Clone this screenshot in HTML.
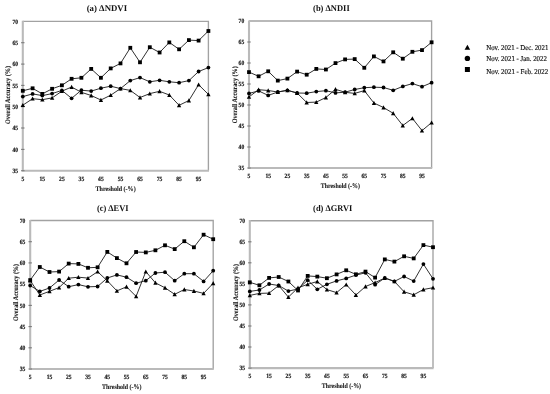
<!DOCTYPE html>
<html><head><meta charset="utf-8"><title>Overall accuracy vs threshold</title>
<style>
html,body{margin:0;padding:0;background:#fff;}
body{width:550px;height:394px;overflow:hidden;}
svg{display:block;}
text{font-family:"Liberation Serif","DejaVu Serif",serif;fill:#111;text-rendering:geometricPrecision;}
.tl{font-size:6.5px;font-weight:bold;fill:#1a1a1a;stroke:#1a1a1a;stroke-width:0.2px;}
.at{font-size:7.0px;font-weight:bold;fill:#222;stroke:#222;stroke-width:0.12px;}
.ti{font-size:8.8px;font-weight:bold;fill:#111;}
.lg{font-size:7.5px;fill:#111;stroke:#111;stroke-width:0.18px;}
</style></head><body>
<svg width="550" height="394" viewBox="0 0 550 394">
<path d="M22.8 21.4H208.4V170.7" fill="none" stroke="#a2a2a2" stroke-width="1.35"/>
<path d="M22.8 20.8V170.7H209" fill="none" stroke="#bababa" stroke-width="2.1"/>
<line x1="21.1" y1="42.7" x2="24.5" y2="42.7" stroke="#7a7a7a" stroke-width="1.1"/>
<line x1="21.1" y1="64.1" x2="24.5" y2="64.1" stroke="#7a7a7a" stroke-width="1.1"/>
<line x1="21.1" y1="85.4" x2="24.5" y2="85.4" stroke="#7a7a7a" stroke-width="1.1"/>
<line x1="21.1" y1="106.7" x2="24.5" y2="106.7" stroke="#7a7a7a" stroke-width="1.1"/>
<line x1="21.1" y1="128" x2="24.5" y2="128" stroke="#7a7a7a" stroke-width="1.1"/>
<line x1="21.1" y1="149.4" x2="24.5" y2="149.4" stroke="#7a7a7a" stroke-width="1.1"/>
<line x1="21.1" y1="170.7" x2="24.5" y2="170.7" stroke="#7a7a7a" stroke-width="1.1"/>
<text x="18" y="23.6" class="tl" text-anchor="end" textLength="5.6" lengthAdjust="spacingAndGlyphs">70</text>
<text x="18" y="44.9" class="tl" text-anchor="end" textLength="5.6" lengthAdjust="spacingAndGlyphs">65</text>
<text x="18" y="66.3" class="tl" text-anchor="end" textLength="5.6" lengthAdjust="spacingAndGlyphs">60</text>
<text x="18" y="87.6" class="tl" text-anchor="end" textLength="5.6" lengthAdjust="spacingAndGlyphs">55</text>
<text x="18" y="108.9" class="tl" text-anchor="end" textLength="5.6" lengthAdjust="spacingAndGlyphs">50</text>
<text x="18" y="130.2" class="tl" text-anchor="end" textLength="5.6" lengthAdjust="spacingAndGlyphs">45</text>
<text x="18" y="151.6" class="tl" text-anchor="end" textLength="5.6" lengthAdjust="spacingAndGlyphs">40</text>
<text x="18" y="172.9" class="tl" text-anchor="end" textLength="5.6" lengthAdjust="spacingAndGlyphs">35</text>
<text x="22.8" y="180.9" class="tl" text-anchor="middle" textLength="2.8" lengthAdjust="spacingAndGlyphs">5</text>
<text x="42.3" y="180.9" class="tl" text-anchor="middle" textLength="5.6" lengthAdjust="spacingAndGlyphs">15</text>
<text x="61.9" y="180.9" class="tl" text-anchor="middle" textLength="5.6" lengthAdjust="spacingAndGlyphs">25</text>
<text x="81.4" y="180.9" class="tl" text-anchor="middle" textLength="5.6" lengthAdjust="spacingAndGlyphs">35</text>
<text x="100.9" y="180.9" class="tl" text-anchor="middle" textLength="5.6" lengthAdjust="spacingAndGlyphs">45</text>
<text x="120.5" y="180.9" class="tl" text-anchor="middle" textLength="5.6" lengthAdjust="spacingAndGlyphs">55</text>
<text x="140" y="180.9" class="tl" text-anchor="middle" textLength="5.6" lengthAdjust="spacingAndGlyphs">65</text>
<text x="159.6" y="180.9" class="tl" text-anchor="middle" textLength="5.6" lengthAdjust="spacingAndGlyphs">75</text>
<text x="179.1" y="180.9" class="tl" text-anchor="middle" textLength="5.6" lengthAdjust="spacingAndGlyphs">85</text>
<text x="198.6" y="180.9" class="tl" text-anchor="middle" textLength="5.6" lengthAdjust="spacingAndGlyphs">95</text>
<text x="115.6" y="191" class="at" text-anchor="middle" textLength="40.2" lengthAdjust="spacingAndGlyphs">Threshold (-%)</text>
<text transform="translate(9.9 95) rotate(-90)" class="at" text-anchor="middle" textLength="58" lengthAdjust="spacingAndGlyphs">Overall Accuracy (%)</text>
<text x="86.7" y="10.9" class="ti" textLength="40.4" lengthAdjust="spacingAndGlyphs">(a) ΔNDVI</text>
<polyline points="22.8,105.2 32.6,98.7 42.3,99.7 52.1,97.9 61.9,91.2 71.6,87 81.4,92.3 91.2,95.5 100.9,100 110.7,95.2 120.5,88.6 130.3,90.4 140,97.5 149.8,93.6 159.6,91.3 169.3,95 179.1,105.3 188.9,100.5 198.6,84.7 208.4,94.4" fill="none" stroke="#1a1a1a" stroke-width="0.9"/>
<polyline points="22.8,96.6 32.6,93.9 42.3,95.6 52.1,93.6 61.9,90.4 71.6,98.3 81.4,90.2 91.2,91.1 100.9,88.2 110.7,86.2 120.5,88.6 130.3,80.6 140,77.6 149.8,81.8 159.6,80.3 169.3,81.8 179.1,82.7 188.9,80.6 198.6,71.5 208.4,67.6" fill="none" stroke="#1a1a1a" stroke-width="0.9"/>
<polyline points="22.8,90.8 32.6,88.3 42.3,93.9 52.1,88.8 61.9,85.3 71.6,78.8 81.4,77.8 91.2,68.9 100.9,77.8 110.7,68.4 120.5,63.4 130.3,47.8 140,62.3 149.8,47.2 159.6,52.5 169.3,42.4 179.1,49.3 188.9,40.1 198.6,40.6 208.4,31" fill="none" stroke="#1a1a1a" stroke-width="0.9"/>
<g fill="#000"><path d="M22.8 103L25 107.1L20.6 107.1Z"/><path d="M32.6 96.5L34.7 100.6L30.4 100.6Z"/><path d="M42.3 97.5L44.5 101.6L40.2 101.6Z"/><path d="M52.1 95.7L54.3 99.8L50 99.8Z"/><path d="M61.9 89L64 93.1L59.7 93.1Z"/><path d="M71.6 84.8L73.8 88.9L69.5 88.9Z"/><path d="M81.4 90.1L83.6 94.2L79.3 94.2Z"/><path d="M91.2 93.3L93.3 97.4L89 97.4Z"/><path d="M100.9 97.8L103.1 101.9L98.8 101.9Z"/><path d="M110.7 93L112.9 97.1L108.6 97.1Z"/><path d="M120.5 86.4L122.6 90.5L118.3 90.5Z"/><path d="M130.3 88.2L132.4 92.3L128.1 92.3Z"/><path d="M140 95.3L142.2 99.4L137.9 99.4Z"/><path d="M149.8 91.4L151.9 95.5L147.6 95.5Z"/><path d="M159.6 89.1L161.7 93.2L157.4 93.2Z"/><path d="M169.3 92.8L171.5 96.9L167.2 96.9Z"/><path d="M179.1 103.1L181.2 107.2L176.9 107.2Z"/><path d="M188.9 98.3L191 102.4L186.7 102.4Z"/><path d="M198.6 82.5L200.8 86.6L196.5 86.6Z"/><path d="M208.4 92.2L210.6 96.3L206.2 96.3Z"/></g>
<g fill="#000"><circle cx="22.8" cy="96.6" r="1.9"/><circle cx="32.6" cy="93.9" r="1.9"/><circle cx="42.3" cy="95.6" r="1.9"/><circle cx="52.1" cy="93.6" r="1.9"/><circle cx="61.9" cy="90.4" r="1.9"/><circle cx="71.6" cy="98.3" r="1.9"/><circle cx="81.4" cy="90.2" r="1.9"/><circle cx="91.2" cy="91.1" r="1.9"/><circle cx="100.9" cy="88.2" r="1.9"/><circle cx="110.7" cy="86.2" r="1.9"/><circle cx="120.5" cy="88.6" r="1.9"/><circle cx="130.3" cy="80.6" r="1.9"/><circle cx="140" cy="77.6" r="1.9"/><circle cx="149.8" cy="81.8" r="1.9"/><circle cx="159.6" cy="80.3" r="1.9"/><circle cx="169.3" cy="81.8" r="1.9"/><circle cx="179.1" cy="82.7" r="1.9"/><circle cx="188.9" cy="80.6" r="1.9"/><circle cx="198.6" cy="71.5" r="1.9"/><circle cx="208.4" cy="67.6" r="1.9"/></g>
<g fill="#000"><rect x="20.9" y="88.9" width="3.8" height="3.8"/><rect x="30.7" y="86.4" width="3.8" height="3.8"/><rect x="40.4" y="92" width="3.8" height="3.8"/><rect x="50.2" y="86.9" width="3.8" height="3.8"/><rect x="60" y="83.4" width="3.8" height="3.8"/><rect x="69.7" y="76.9" width="3.8" height="3.8"/><rect x="79.5" y="75.9" width="3.8" height="3.8"/><rect x="89.3" y="67" width="3.8" height="3.8"/><rect x="99" y="75.9" width="3.8" height="3.8"/><rect x="108.8" y="66.5" width="3.8" height="3.8"/><rect x="118.6" y="61.5" width="3.8" height="3.8"/><rect x="128.4" y="45.9" width="3.8" height="3.8"/><rect x="138.1" y="60.4" width="3.8" height="3.8"/><rect x="147.9" y="45.3" width="3.8" height="3.8"/><rect x="157.7" y="50.6" width="3.8" height="3.8"/><rect x="167.4" y="40.5" width="3.8" height="3.8"/><rect x="177.2" y="47.4" width="3.8" height="3.8"/><rect x="187" y="38.2" width="3.8" height="3.8"/><rect x="196.7" y="38.7" width="3.8" height="3.8"/><rect x="206.5" y="29.1" width="3.8" height="3.8"/></g>
<path d="M249 21H431.6V168" fill="none" stroke="#a2a2a2" stroke-width="1.35"/>
<path d="M249 20.4V168H432.2" fill="none" stroke="#bababa" stroke-width="2.1"/>
<line x1="247.3" y1="42" x2="250.7" y2="42" stroke="#7a7a7a" stroke-width="1.1"/>
<line x1="247.3" y1="63" x2="250.7" y2="63" stroke="#7a7a7a" stroke-width="1.1"/>
<line x1="247.3" y1="84" x2="250.7" y2="84" stroke="#7a7a7a" stroke-width="1.1"/>
<line x1="247.3" y1="105" x2="250.7" y2="105" stroke="#7a7a7a" stroke-width="1.1"/>
<line x1="247.3" y1="126" x2="250.7" y2="126" stroke="#7a7a7a" stroke-width="1.1"/>
<line x1="247.3" y1="147" x2="250.7" y2="147" stroke="#7a7a7a" stroke-width="1.1"/>
<line x1="247.3" y1="168" x2="250.7" y2="168" stroke="#7a7a7a" stroke-width="1.1"/>
<text x="244.2" y="23.2" class="tl" text-anchor="end" textLength="5.6" lengthAdjust="spacingAndGlyphs">70</text>
<text x="244.2" y="44.2" class="tl" text-anchor="end" textLength="5.6" lengthAdjust="spacingAndGlyphs">65</text>
<text x="244.2" y="65.2" class="tl" text-anchor="end" textLength="5.6" lengthAdjust="spacingAndGlyphs">60</text>
<text x="244.2" y="86.2" class="tl" text-anchor="end" textLength="5.6" lengthAdjust="spacingAndGlyphs">55</text>
<text x="244.2" y="107.2" class="tl" text-anchor="end" textLength="5.6" lengthAdjust="spacingAndGlyphs">50</text>
<text x="244.2" y="128.2" class="tl" text-anchor="end" textLength="5.6" lengthAdjust="spacingAndGlyphs">45</text>
<text x="244.2" y="149.2" class="tl" text-anchor="end" textLength="5.6" lengthAdjust="spacingAndGlyphs">40</text>
<text x="244.2" y="170.2" class="tl" text-anchor="end" textLength="5.6" lengthAdjust="spacingAndGlyphs">35</text>
<text x="249" y="178.2" class="tl" text-anchor="middle" textLength="2.8" lengthAdjust="spacingAndGlyphs">5</text>
<text x="268.2" y="178.2" class="tl" text-anchor="middle" textLength="5.6" lengthAdjust="spacingAndGlyphs">15</text>
<text x="287.4" y="178.2" class="tl" text-anchor="middle" textLength="5.6" lengthAdjust="spacingAndGlyphs">25</text>
<text x="306.7" y="178.2" class="tl" text-anchor="middle" textLength="5.6" lengthAdjust="spacingAndGlyphs">35</text>
<text x="325.9" y="178.2" class="tl" text-anchor="middle" textLength="5.6" lengthAdjust="spacingAndGlyphs">45</text>
<text x="345.1" y="178.2" class="tl" text-anchor="middle" textLength="5.6" lengthAdjust="spacingAndGlyphs">55</text>
<text x="364.3" y="178.2" class="tl" text-anchor="middle" textLength="5.6" lengthAdjust="spacingAndGlyphs">65</text>
<text x="383.5" y="178.2" class="tl" text-anchor="middle" textLength="5.6" lengthAdjust="spacingAndGlyphs">75</text>
<text x="402.8" y="178.2" class="tl" text-anchor="middle" textLength="5.6" lengthAdjust="spacingAndGlyphs">85</text>
<text x="422" y="178.2" class="tl" text-anchor="middle" textLength="5.6" lengthAdjust="spacingAndGlyphs">95</text>
<text x="340.3" y="187.8" class="at" text-anchor="middle" textLength="39.2" lengthAdjust="spacingAndGlyphs">Threshold (-%)</text>
<text transform="translate(236.7 94.8) rotate(-90)" class="at" text-anchor="middle" textLength="57" lengthAdjust="spacingAndGlyphs">Overall Accuracy (%)</text>
<text x="313.1" y="10.8" class="ti" textLength="36.6" lengthAdjust="spacingAndGlyphs">(b) ΔNDII</text>
<polyline points="249,96.9 258.6,89.7 268.2,90.5 277.8,92 287.4,90.3 297.1,93 306.7,102.5 316.3,102.1 325.9,97.5 335.5,89.3 345.1,92.3 354.7,93.4 364.3,90.6 373.9,103 383.5,107.5 393.2,113.3 402.8,125.5 412.4,118.4 422,130.6 431.6,122.6" fill="none" stroke="#1a1a1a" stroke-width="0.9"/>
<polyline points="249,93.4 258.6,90.9 268.2,95.4 277.8,92 287.4,90.3 297.1,93 306.7,93.2 316.3,91.6 325.9,90.7 335.5,92.9 345.1,92.2 354.7,89.5 364.3,87.7 373.9,87.2 383.5,87.5 393.2,90.3 402.8,86.4 412.4,83.6 422,86.7 431.6,82.7" fill="none" stroke="#1a1a1a" stroke-width="0.9"/>
<polyline points="249,72.1 258.6,76.3 268.2,71.3 277.8,80.6 287.4,78.6 297.1,71.6 306.7,74.7 316.3,68.9 325.9,69.5 335.5,63.1 345.1,59.4 354.7,59.1 364.3,67.8 373.9,56.4 383.5,61.4 393.2,52.3 402.8,58.7 412.4,51.8 422,50.1 431.6,42.3" fill="none" stroke="#1a1a1a" stroke-width="0.9"/>
<g fill="#000"><path d="M249 94.7L251.2 98.8L246.8 98.8Z"/><path d="M258.6 87.5L260.8 91.6L256.5 91.6Z"/><path d="M268.2 88.3L270.4 92.4L266.1 92.4Z"/><path d="M277.8 89.8L280 93.9L275.7 93.9Z"/><path d="M287.4 88.1L289.6 92.2L285.3 92.2Z"/><path d="M297.1 90.8L299.2 94.9L294.9 94.9Z"/><path d="M306.7 100.3L308.8 104.4L304.5 104.4Z"/><path d="M316.3 99.9L318.4 104L314.1 104Z"/><path d="M325.9 95.3L328 99.4L323.7 99.4Z"/><path d="M335.5 87.1L337.6 91.2L333.3 91.2Z"/><path d="M345.1 90.1L347.3 94.2L343 94.2Z"/><path d="M354.7 91.2L356.9 95.3L352.6 95.3Z"/><path d="M364.3 88.4L366.5 92.5L362.2 92.5Z"/><path d="M373.9 100.8L376.1 104.9L371.8 104.9Z"/><path d="M383.5 105.3L385.7 109.4L381.4 109.4Z"/><path d="M393.2 111.1L395.3 115.2L391 115.2Z"/><path d="M402.8 123.3L404.9 127.4L400.6 127.4Z"/><path d="M412.4 116.2L414.5 120.3L410.2 120.3Z"/><path d="M422 128.4L424.1 132.5L419.8 132.5Z"/><path d="M431.6 120.4L433.8 124.5L429.4 124.5Z"/></g>
<g fill="#000"><circle cx="249" cy="93.4" r="1.9"/><circle cx="258.6" cy="90.9" r="1.9"/><circle cx="268.2" cy="95.4" r="1.9"/><circle cx="277.8" cy="92" r="1.9"/><circle cx="287.4" cy="90.3" r="1.9"/><circle cx="297.1" cy="93" r="1.9"/><circle cx="306.7" cy="93.2" r="1.9"/><circle cx="316.3" cy="91.6" r="1.9"/><circle cx="325.9" cy="90.7" r="1.9"/><circle cx="335.5" cy="92.9" r="1.9"/><circle cx="345.1" cy="92.2" r="1.9"/><circle cx="354.7" cy="89.5" r="1.9"/><circle cx="364.3" cy="87.7" r="1.9"/><circle cx="373.9" cy="87.2" r="1.9"/><circle cx="383.5" cy="87.5" r="1.9"/><circle cx="393.2" cy="90.3" r="1.9"/><circle cx="402.8" cy="86.4" r="1.9"/><circle cx="412.4" cy="83.6" r="1.9"/><circle cx="422" cy="86.7" r="1.9"/><circle cx="431.6" cy="82.7" r="1.9"/></g>
<g fill="#000"><rect x="247.1" y="70.2" width="3.8" height="3.8"/><rect x="256.7" y="74.4" width="3.8" height="3.8"/><rect x="266.3" y="69.4" width="3.8" height="3.8"/><rect x="275.9" y="78.7" width="3.8" height="3.8"/><rect x="285.5" y="76.7" width="3.8" height="3.8"/><rect x="295.2" y="69.7" width="3.8" height="3.8"/><rect x="304.8" y="72.8" width="3.8" height="3.8"/><rect x="314.4" y="67" width="3.8" height="3.8"/><rect x="324" y="67.6" width="3.8" height="3.8"/><rect x="333.6" y="61.2" width="3.8" height="3.8"/><rect x="343.2" y="57.5" width="3.8" height="3.8"/><rect x="352.8" y="57.2" width="3.8" height="3.8"/><rect x="362.4" y="65.9" width="3.8" height="3.8"/><rect x="372" y="54.5" width="3.8" height="3.8"/><rect x="381.6" y="59.5" width="3.8" height="3.8"/><rect x="391.3" y="50.4" width="3.8" height="3.8"/><rect x="400.9" y="56.8" width="3.8" height="3.8"/><rect x="410.5" y="49.9" width="3.8" height="3.8"/><rect x="420.1" y="48.2" width="3.8" height="3.8"/><rect x="429.7" y="40.4" width="3.8" height="3.8"/></g>
<path d="M30.2 220.5H213.2V369" fill="none" stroke="#a2a2a2" stroke-width="1.35"/>
<path d="M30.2 219.9V369H213.8" fill="none" stroke="#bababa" stroke-width="2.1"/>
<line x1="28.5" y1="241.7" x2="31.9" y2="241.7" stroke="#7a7a7a" stroke-width="1.1"/>
<line x1="28.5" y1="262.9" x2="31.9" y2="262.9" stroke="#7a7a7a" stroke-width="1.1"/>
<line x1="28.5" y1="284.1" x2="31.9" y2="284.1" stroke="#7a7a7a" stroke-width="1.1"/>
<line x1="28.5" y1="305.4" x2="31.9" y2="305.4" stroke="#7a7a7a" stroke-width="1.1"/>
<line x1="28.5" y1="326.6" x2="31.9" y2="326.6" stroke="#7a7a7a" stroke-width="1.1"/>
<line x1="28.5" y1="347.8" x2="31.9" y2="347.8" stroke="#7a7a7a" stroke-width="1.1"/>
<line x1="28.5" y1="369" x2="31.9" y2="369" stroke="#7a7a7a" stroke-width="1.1"/>
<text x="25.4" y="222.7" class="tl" text-anchor="end" textLength="5.6" lengthAdjust="spacingAndGlyphs">70</text>
<text x="25.4" y="243.9" class="tl" text-anchor="end" textLength="5.6" lengthAdjust="spacingAndGlyphs">65</text>
<text x="25.4" y="265.1" class="tl" text-anchor="end" textLength="5.6" lengthAdjust="spacingAndGlyphs">60</text>
<text x="25.4" y="286.3" class="tl" text-anchor="end" textLength="5.6" lengthAdjust="spacingAndGlyphs">55</text>
<text x="25.4" y="307.6" class="tl" text-anchor="end" textLength="5.6" lengthAdjust="spacingAndGlyphs">50</text>
<text x="25.4" y="328.8" class="tl" text-anchor="end" textLength="5.6" lengthAdjust="spacingAndGlyphs">45</text>
<text x="25.4" y="350" class="tl" text-anchor="end" textLength="5.6" lengthAdjust="spacingAndGlyphs">40</text>
<text x="25.4" y="371.2" class="tl" text-anchor="end" textLength="5.6" lengthAdjust="spacingAndGlyphs">35</text>
<text x="30.2" y="379.2" class="tl" text-anchor="middle" textLength="2.8" lengthAdjust="spacingAndGlyphs">5</text>
<text x="49.5" y="379.2" class="tl" text-anchor="middle" textLength="5.6" lengthAdjust="spacingAndGlyphs">15</text>
<text x="68.7" y="379.2" class="tl" text-anchor="middle" textLength="5.6" lengthAdjust="spacingAndGlyphs">25</text>
<text x="88" y="379.2" class="tl" text-anchor="middle" textLength="5.6" lengthAdjust="spacingAndGlyphs">35</text>
<text x="107.3" y="379.2" class="tl" text-anchor="middle" textLength="5.6" lengthAdjust="spacingAndGlyphs">45</text>
<text x="126.5" y="379.2" class="tl" text-anchor="middle" textLength="5.6" lengthAdjust="spacingAndGlyphs">55</text>
<text x="145.8" y="379.2" class="tl" text-anchor="middle" textLength="5.6" lengthAdjust="spacingAndGlyphs">65</text>
<text x="165" y="379.2" class="tl" text-anchor="middle" textLength="5.6" lengthAdjust="spacingAndGlyphs">75</text>
<text x="184.3" y="379.2" class="tl" text-anchor="middle" textLength="5.6" lengthAdjust="spacingAndGlyphs">85</text>
<text x="203.6" y="379.2" class="tl" text-anchor="middle" textLength="5.6" lengthAdjust="spacingAndGlyphs">95</text>
<text x="121.7" y="388.7" class="at" text-anchor="middle" textLength="39.6" lengthAdjust="spacingAndGlyphs">Threshold (-%)</text>
<text transform="translate(17.5 292.5) rotate(-90)" class="at" text-anchor="middle" textLength="57" lengthAdjust="spacingAndGlyphs">Overall Accuracy (%)</text>
<text x="96.9" y="210.7" class="ti" textLength="31.6" lengthAdjust="spacingAndGlyphs">(c) ΔEVI</text>
<polyline points="30.2,280.5 39.8,295 49.5,291.3 59.1,287.6 68.7,278.2 78.4,277.2 88,278.1 97.6,271.7 107.3,280.8 116.9,290.9 126.5,286.8 136.1,296.4 145.8,271.6 155.4,282.8 165,287.8 174.7,294.3 184.3,289.5 193.9,291 203.6,293.4 213.2,283.3" fill="none" stroke="#1a1a1a" stroke-width="0.9"/>
<polyline points="30.2,285.6 39.8,291.4 49.5,288 59.1,280 68.7,286.7 78.4,284.6 88,286.8 97.6,286.5 107.3,278 116.9,274.9 126.5,277.2 136.1,283.2 145.8,280.7 155.4,273 165,272.2 174.7,280.7 184.3,273.7 193.9,273.7 203.6,281.4 213.2,270.7" fill="none" stroke="#1a1a1a" stroke-width="0.9"/>
<polyline points="30.2,280.1 39.8,267 49.5,272 59.1,271.6 68.7,263.6 78.4,263.9 88,267.8 97.6,267.3 107.3,251.9 116.9,258.1 126.5,263.3 136.1,252 145.8,252.4 155.4,250.3 165,245.3 174.7,249.1 184.3,241.2 193.9,247.3 203.6,234.7 213.2,239.2" fill="none" stroke="#1a1a1a" stroke-width="0.9"/>
<g fill="#000"><path d="M30.2 278.3L32.4 282.4L28 282.4Z"/><path d="M39.8 292.8L42 296.9L37.7 296.9Z"/><path d="M49.5 289.1L51.6 293.2L47.3 293.2Z"/><path d="M59.1 285.4L61.2 289.5L56.9 289.5Z"/><path d="M68.7 276L70.9 280.1L66.6 280.1Z"/><path d="M78.4 275L80.5 279.1L76.2 279.1Z"/><path d="M88 275.9L90.1 280L85.8 280Z"/><path d="M97.6 269.5L99.8 273.6L95.5 273.6Z"/><path d="M107.3 278.6L109.4 282.7L105.1 282.7Z"/><path d="M116.9 288.7L119 292.8L114.7 292.8Z"/><path d="M126.5 284.6L128.7 288.7L124.4 288.7Z"/><path d="M136.1 294.2L138.3 298.3L134 298.3Z"/><path d="M145.8 269.4L147.9 273.5L143.6 273.5Z"/><path d="M155.4 280.6L157.6 284.7L153.3 284.7Z"/><path d="M165 285.6L167.2 289.7L162.9 289.7Z"/><path d="M174.7 292.1L176.8 296.2L172.5 296.2Z"/><path d="M184.3 287.3L186.5 291.4L182.2 291.4Z"/><path d="M193.9 288.8L196.1 292.9L191.8 292.9Z"/><path d="M203.6 291.2L205.7 295.3L201.4 295.3Z"/><path d="M213.2 281.1L215.3 285.2L211 285.2Z"/></g>
<g fill="#000"><circle cx="30.2" cy="285.6" r="1.9"/><circle cx="39.8" cy="291.4" r="1.9"/><circle cx="49.5" cy="288" r="1.9"/><circle cx="59.1" cy="280" r="1.9"/><circle cx="68.7" cy="286.7" r="1.9"/><circle cx="78.4" cy="284.6" r="1.9"/><circle cx="88" cy="286.8" r="1.9"/><circle cx="97.6" cy="286.5" r="1.9"/><circle cx="107.3" cy="278" r="1.9"/><circle cx="116.9" cy="274.9" r="1.9"/><circle cx="126.5" cy="277.2" r="1.9"/><circle cx="136.1" cy="283.2" r="1.9"/><circle cx="145.8" cy="280.7" r="1.9"/><circle cx="155.4" cy="273" r="1.9"/><circle cx="165" cy="272.2" r="1.9"/><circle cx="174.7" cy="280.7" r="1.9"/><circle cx="184.3" cy="273.7" r="1.9"/><circle cx="193.9" cy="273.7" r="1.9"/><circle cx="203.6" cy="281.4" r="1.9"/><circle cx="213.2" cy="270.7" r="1.9"/></g>
<g fill="#000"><rect x="28.3" y="278.2" width="3.8" height="3.8"/><rect x="37.9" y="265.1" width="3.8" height="3.8"/><rect x="47.6" y="270.1" width="3.8" height="3.8"/><rect x="57.2" y="269.7" width="3.8" height="3.8"/><rect x="66.8" y="261.7" width="3.8" height="3.8"/><rect x="76.5" y="262" width="3.8" height="3.8"/><rect x="86.1" y="265.9" width="3.8" height="3.8"/><rect x="95.7" y="265.4" width="3.8" height="3.8"/><rect x="105.4" y="250" width="3.8" height="3.8"/><rect x="115" y="256.2" width="3.8" height="3.8"/><rect x="124.6" y="261.4" width="3.8" height="3.8"/><rect x="134.2" y="250.1" width="3.8" height="3.8"/><rect x="143.9" y="250.5" width="3.8" height="3.8"/><rect x="153.5" y="248.4" width="3.8" height="3.8"/><rect x="163.1" y="243.4" width="3.8" height="3.8"/><rect x="172.8" y="247.2" width="3.8" height="3.8"/><rect x="182.4" y="239.3" width="3.8" height="3.8"/><rect x="192" y="245.4" width="3.8" height="3.8"/><rect x="201.7" y="232.8" width="3.8" height="3.8"/><rect x="211.3" y="237.3" width="3.8" height="3.8"/></g>
<path d="M249.8 220.7H433V368.1" fill="none" stroke="#a2a2a2" stroke-width="1.35"/>
<path d="M249.8 220.1V368.1H433.6" fill="none" stroke="#bababa" stroke-width="2.1"/>
<line x1="248.1" y1="241.8" x2="251.5" y2="241.8" stroke="#7a7a7a" stroke-width="1.1"/>
<line x1="248.1" y1="262.8" x2="251.5" y2="262.8" stroke="#7a7a7a" stroke-width="1.1"/>
<line x1="248.1" y1="283.9" x2="251.5" y2="283.9" stroke="#7a7a7a" stroke-width="1.1"/>
<line x1="248.1" y1="304.9" x2="251.5" y2="304.9" stroke="#7a7a7a" stroke-width="1.1"/>
<line x1="248.1" y1="326" x2="251.5" y2="326" stroke="#7a7a7a" stroke-width="1.1"/>
<line x1="248.1" y1="347" x2="251.5" y2="347" stroke="#7a7a7a" stroke-width="1.1"/>
<line x1="248.1" y1="368.1" x2="251.5" y2="368.1" stroke="#7a7a7a" stroke-width="1.1"/>
<text x="245" y="222.9" class="tl" text-anchor="end" textLength="5.6" lengthAdjust="spacingAndGlyphs">70</text>
<text x="245" y="244" class="tl" text-anchor="end" textLength="5.6" lengthAdjust="spacingAndGlyphs">65</text>
<text x="245" y="265" class="tl" text-anchor="end" textLength="5.6" lengthAdjust="spacingAndGlyphs">60</text>
<text x="245" y="286.1" class="tl" text-anchor="end" textLength="5.6" lengthAdjust="spacingAndGlyphs">55</text>
<text x="245" y="307.1" class="tl" text-anchor="end" textLength="5.6" lengthAdjust="spacingAndGlyphs">50</text>
<text x="245" y="328.2" class="tl" text-anchor="end" textLength="5.6" lengthAdjust="spacingAndGlyphs">45</text>
<text x="245" y="349.2" class="tl" text-anchor="end" textLength="5.6" lengthAdjust="spacingAndGlyphs">40</text>
<text x="245" y="370.3" class="tl" text-anchor="end" textLength="5.6" lengthAdjust="spacingAndGlyphs">35</text>
<text x="249.8" y="378.3" class="tl" text-anchor="middle" textLength="2.8" lengthAdjust="spacingAndGlyphs">5</text>
<text x="269.1" y="378.3" class="tl" text-anchor="middle" textLength="5.6" lengthAdjust="spacingAndGlyphs">15</text>
<text x="288.4" y="378.3" class="tl" text-anchor="middle" textLength="5.6" lengthAdjust="spacingAndGlyphs">25</text>
<text x="307.7" y="378.3" class="tl" text-anchor="middle" textLength="5.6" lengthAdjust="spacingAndGlyphs">35</text>
<text x="326.9" y="378.3" class="tl" text-anchor="middle" textLength="5.6" lengthAdjust="spacingAndGlyphs">45</text>
<text x="346.2" y="378.3" class="tl" text-anchor="middle" textLength="5.6" lengthAdjust="spacingAndGlyphs">55</text>
<text x="365.5" y="378.3" class="tl" text-anchor="middle" textLength="5.6" lengthAdjust="spacingAndGlyphs">65</text>
<text x="384.8" y="378.3" class="tl" text-anchor="middle" textLength="5.6" lengthAdjust="spacingAndGlyphs">75</text>
<text x="404.1" y="378.3" class="tl" text-anchor="middle" textLength="5.6" lengthAdjust="spacingAndGlyphs">85</text>
<text x="423.4" y="378.3" class="tl" text-anchor="middle" textLength="5.6" lengthAdjust="spacingAndGlyphs">95</text>
<text x="341.4" y="388" class="at" text-anchor="middle" textLength="39.4" lengthAdjust="spacingAndGlyphs">Threshold (-%)</text>
<text transform="translate(238 292.5) rotate(-90)" class="at" text-anchor="middle" textLength="57" lengthAdjust="spacingAndGlyphs">Overall Accuracy (%)</text>
<text x="313.1" y="210.7" class="ti" textLength="39.2" lengthAdjust="spacingAndGlyphs">(d) ΔGRVI</text>
<polyline points="249.8,295.4 259.4,293.4 269.1,293.1 278.7,285.5 288.4,297.1 298,287.8 307.7,284.3 317.3,281.5 326.9,289.6 336.6,292.6 346.2,284.6 355.9,295 365.5,286.5 375.1,282.6 384.8,278 394.4,281.4 404.1,291.8 413.7,294.8 423.4,289.5 433,287.7" fill="none" stroke="#1a1a1a" stroke-width="0.9"/>
<polyline points="249.8,291.4 259.4,290 269.1,284 278.7,285.5 288.4,291.1 298,289 307.7,280.2 317.3,289.3 326.9,284.3 336.6,280.9 346.2,278.4 355.9,275.1 365.5,272.8 375.1,284.7 384.8,278 394.4,281.4 404.1,276.5 413.7,281.1 423.4,264.1 433,278.8" fill="none" stroke="#1a1a1a" stroke-width="0.9"/>
<polyline points="249.8,282.3 259.4,285.3 269.1,277.9 278.7,277 288.4,281.5 298,290.5 307.7,275.9 317.3,276.6 326.9,278.2 336.6,274.4 346.2,270.3 355.9,274.3 365.5,271.6 375.1,277.6 384.8,259.4 394.4,261.6 404.1,256.3 413.7,258.4 423.4,245.1 433,247.2" fill="none" stroke="#1a1a1a" stroke-width="0.9"/>
<g fill="#000"><path d="M249.8 293.2L252 297.3L247.7 297.3Z"/><path d="M259.4 291.2L261.6 295.3L257.3 295.3Z"/><path d="M269.1 290.9L271.2 295L266.9 295Z"/><path d="M278.7 283.3L280.9 287.4L276.6 287.4Z"/><path d="M288.4 294.9L290.5 299L286.2 299Z"/><path d="M298 285.6L300.2 289.7L295.9 289.7Z"/><path d="M307.7 282.1L309.8 286.2L305.5 286.2Z"/><path d="M317.3 279.3L319.4 283.4L315.1 283.4Z"/><path d="M326.9 287.4L329.1 291.5L324.8 291.5Z"/><path d="M336.6 290.4L338.7 294.5L334.4 294.5Z"/><path d="M346.2 282.4L348.4 286.5L344.1 286.5Z"/><path d="M355.9 292.8L358 296.9L353.7 296.9Z"/><path d="M365.5 284.3L367.7 288.4L363.4 288.4Z"/><path d="M375.1 280.4L377.3 284.5L373 284.5Z"/><path d="M384.8 275.8L386.9 279.9L382.6 279.9Z"/><path d="M394.4 279.2L396.6 283.3L392.3 283.3Z"/><path d="M404.1 289.6L406.2 293.7L401.9 293.7Z"/><path d="M413.7 292.6L415.9 296.7L411.6 296.7Z"/><path d="M423.4 287.3L425.5 291.4L421.2 291.4Z"/><path d="M433 285.5L435.2 289.6L430.8 289.6Z"/></g>
<g fill="#000"><circle cx="249.8" cy="291.4" r="1.9"/><circle cx="259.4" cy="290" r="1.9"/><circle cx="269.1" cy="284" r="1.9"/><circle cx="278.7" cy="285.5" r="1.9"/><circle cx="288.4" cy="291.1" r="1.9"/><circle cx="298" cy="289" r="1.9"/><circle cx="307.7" cy="280.2" r="1.9"/><circle cx="317.3" cy="289.3" r="1.9"/><circle cx="326.9" cy="284.3" r="1.9"/><circle cx="336.6" cy="280.9" r="1.9"/><circle cx="346.2" cy="278.4" r="1.9"/><circle cx="355.9" cy="275.1" r="1.9"/><circle cx="365.5" cy="272.8" r="1.9"/><circle cx="375.1" cy="284.7" r="1.9"/><circle cx="384.8" cy="278" r="1.9"/><circle cx="394.4" cy="281.4" r="1.9"/><circle cx="404.1" cy="276.5" r="1.9"/><circle cx="413.7" cy="281.1" r="1.9"/><circle cx="423.4" cy="264.1" r="1.9"/><circle cx="433" cy="278.8" r="1.9"/></g>
<g fill="#000"><rect x="247.9" y="280.4" width="3.8" height="3.8"/><rect x="257.5" y="283.4" width="3.8" height="3.8"/><rect x="267.2" y="276" width="3.8" height="3.8"/><rect x="276.8" y="275.1" width="3.8" height="3.8"/><rect x="286.5" y="279.6" width="3.8" height="3.8"/><rect x="296.1" y="288.6" width="3.8" height="3.8"/><rect x="305.8" y="274" width="3.8" height="3.8"/><rect x="315.4" y="274.7" width="3.8" height="3.8"/><rect x="325" y="276.3" width="3.8" height="3.8"/><rect x="334.7" y="272.5" width="3.8" height="3.8"/><rect x="344.3" y="268.4" width="3.8" height="3.8"/><rect x="354" y="272.4" width="3.8" height="3.8"/><rect x="363.6" y="269.7" width="3.8" height="3.8"/><rect x="373.2" y="275.7" width="3.8" height="3.8"/><rect x="382.9" y="257.5" width="3.8" height="3.8"/><rect x="392.5" y="259.7" width="3.8" height="3.8"/><rect x="402.2" y="254.4" width="3.8" height="3.8"/><rect x="411.8" y="256.5" width="3.8" height="3.8"/><rect x="421.5" y="243.2" width="3.8" height="3.8"/><rect x="431.1" y="245.3" width="3.8" height="3.8"/></g>
<path d="M467.4 44.8L470.2 49.7L464.6 49.7Z" fill="#000"/>
<text x="486.3" y="49.6" class="lg" textLength="62" lengthAdjust="spacingAndGlyphs">Nov. 2021 - Dec. 2021</text>
<circle cx="467.4" cy="58.4" r="2.7" fill="#000"/>
<text x="486.3" y="60.6" class="lg" textLength="60.6" lengthAdjust="spacingAndGlyphs">Nov. 2021 - Jan. 2022</text>
<rect x="464.9" y="67" width="5" height="5" fill="#000"/>
<text x="486.3" y="73.8" class="lg" textLength="61.8" lengthAdjust="spacingAndGlyphs">Nov. 2021 - Feb. 2022</text>
</svg>
</body></html>
